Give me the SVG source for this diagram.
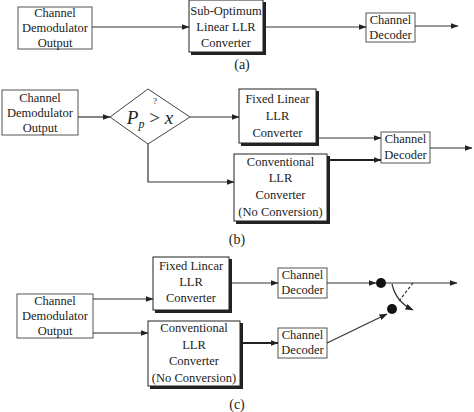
<svg xmlns="http://www.w3.org/2000/svg" width="474" height="412" viewBox="0 0 474 412">
<defs>
<style>
.box{fill:#fff;stroke:#555;stroke-width:1}
.sbox{fill:#fff;stroke:#222;stroke-width:1}
.sh{fill:#222}
.t{font-family:"Liberation Serif","Times New Roman","DejaVu Serif",serif;font-size:12.5px;fill:#222;text-anchor:middle}
.cap{font-family:"Liberation Serif","Times New Roman","DejaVu Serif",serif;font-size:14px;fill:#222;text-anchor:middle}
.ln{fill:none;stroke:#333;stroke-width:1.2}
.thk{fill:none;stroke:#222;stroke-width:2}
</style>
<marker id="ah" markerWidth="8" markerHeight="6" refX="7.5" refY="3" orient="auto" markerUnits="userSpaceOnUse">
<path d="M0,0 L8,3 L0,6 Z" fill="#222"/>
</marker>
</defs>

<!-- (a) -->
<g id="a-demod">
<rect class="box" x="18" y="7" width="74" height="42"/>
<text class="t" x="55" y="17">Channel</text>
<text class="t" x="55" y="32">Demodulator</text>
<text class="t" x="55" y="47">Output</text>
</g>
<g id="a-subopt">
<rect class="sh" x="191" y="2" width="75" height="53"/>
<rect class="sbox" x="189" y="0" width="74" height="52"/>
<text class="t" x="226" y="15">Sub-Optimum</text>
<text class="t" x="226" y="31">Linear LLR</text>
<text class="t" x="226" y="47">Converter</text>
</g>
<g id="a-decoder">
<rect class="box" x="366" y="13" width="49" height="29"/>
<text class="t" x="390.5" y="24">Channel</text>
<text class="t" x="390.5" y="39">Decoder</text>
</g>
<text class="cap" x="242" y="69">(a)</text>

<!-- (b) -->
<g id="b-demod">
<rect class="box" x="2" y="90" width="76" height="45"/>
<text class="t" x="40" y="102">Channel</text>
<text class="t" x="40" y="117">Demodulator</text>
<text class="t" x="40" y="132">Output</text>
</g>
<g id="b-decision">
<polygon fill="#fff" stroke="#444" stroke-width="1" points="110,117 148,89 190,117 148,144"/>
<text x="150" y="124" font-family="Liberation Serif, Times New Roman, serif" font-size="19" font-style="italic" fill="#222" text-anchor="middle">P<tspan font-size="12" dy="4">p</tspan><tspan font-style="normal" dy="-4"> &gt; </tspan>x</text>
<text x="155" y="104" font-family="Liberation Serif, Times New Roman, serif" font-size="9" fill="#222" text-anchor="middle">?</text>
</g>
<g id="b-fixed">
<rect class="sh" x="241" y="91" width="78" height="55"/>
<rect class="sbox" x="239" y="89" width="77" height="54"/>
<text class="t" x="277.5" y="103">Fixed Linear</text>
<text class="t" x="277.5" y="120">LLR</text>
<text class="t" x="277.5" y="137">Converter</text>
</g>
<g id="b-conv">
<rect class="sh" x="236" y="156" width="94" height="68"/>
<rect class="sbox" x="234" y="154" width="93" height="67"/>
<text class="t" x="280.5" y="166">Conventional</text>
<text class="t" x="280.5" y="182">LLR</text>
<text class="t" x="280.5" y="199">Converter</text>
<text class="t" x="280.5" y="216">(No Conversion)</text>
</g>
<g id="b-decoder">
<rect class="box" x="381" y="132" width="49" height="31"/>
<text class="t" x="405.5" y="143">Channel</text>
<text class="t" x="405.5" y="159">Decoder</text>
</g>
<text class="cap" x="237" y="244">(b)</text>

<!-- (c) -->
<g id="c-demod">
<rect class="box" x="17" y="294" width="76" height="44"/>
<text class="t" x="55" y="305">Channel</text>
<text class="t" x="55" y="320">Demodulator</text>
<text class="t" x="55" y="335">Output</text>
</g>
<g id="c-fixed">
<rect class="sh" x="155" y="259" width="77" height="54"/>
<rect class="sbox" x="153" y="257" width="76" height="53"/>
<text class="t" x="191" y="270">Fixed Lincar</text>
<text class="t" x="191" y="286">LLR</text>
<text class="t" x="191" y="302">Converter</text>
</g>
<g id="c-conv">
<rect class="sh" x="150" y="323" width="93" height="66"/>
<rect class="sbox" x="148" y="321" width="92" height="65"/>
<text class="t" x="194" y="332">Conventional</text>
<text class="t" x="194" y="349">LLR</text>
<text class="t" x="194" y="365">Converter</text>
<text class="t" x="194" y="382">(No Conversion)</text>
</g>
<g id="c-decoder1">
<rect class="box" x="278" y="268" width="49" height="30"/>
<text class="t" x="302.5" y="279">Channel</text>
<text class="t" x="302.5" y="294">Decoder</text>
</g>
<g id="c-decoder2">
<rect class="box" x="278" y="328" width="49" height="30"/>
<text class="t" x="302.5" y="339">Channel</text>
<text class="t" x="302.5" y="354">Decoder</text>
</g>
<g id="c-switch">
<circle cx="381" cy="283" r="5" fill="#111"/>
<circle cx="392" cy="309" r="5" fill="#111"/>
</g>
<text class="cap" x="237" y="409">(c)</text>

<!-- connectors -->
<g id="connectors">
<line class="ln" x1="92" y1="27" x2="189" y2="27" marker-end="url(#ah)"/>
<line class="ln" x1="266" y1="27" x2="366" y2="27" marker-end="url(#ah)"/>
<line class="ln" x1="415" y1="26" x2="458" y2="26" marker-end="url(#ah)"/>

<line class="ln" x1="78" y1="117" x2="110" y2="117" marker-end="url(#ah)"/>
<line class="ln" x1="190" y1="117" x2="239" y2="117" marker-end="url(#ah)"/>
<polyline class="ln" points="148,144 148,182 234,182" marker-end="url(#ah)"/>
<line class="ln" x1="318" y1="138" x2="381" y2="138" marker-end="url(#ah)"/>
<line class="thk" x1="329" y1="160" x2="381" y2="160" marker-end="url(#ah)"/>
<line class="ln" x1="430" y1="148" x2="472" y2="148" marker-end="url(#ah)"/>

<line class="ln" x1="93" y1="299" x2="153" y2="299" marker-end="url(#ah)"/>
<line class="ln" x1="93" y1="333" x2="148" y2="333" marker-end="url(#ah)"/>
<line class="ln" x1="231" y1="283" x2="278" y2="283" marker-end="url(#ah)"/>
<line class="thk" x1="242" y1="343" x2="278" y2="343" marker-end="url(#ah)"/>
<line class="ln" x1="327" y1="283" x2="376" y2="283" marker-end="url(#ah)"/>
<line class="ln" x1="386" y1="283" x2="457" y2="283" marker-end="url(#ah)"/>
<line class="ln" x1="327" y1="343" x2="387" y2="314" marker-end="url(#ah)"/>
<path class="ln" d="M392,284 Q396,302 413,310" marker-end="url(#ah)"/>
<line class="ln" x1="399" y1="301" x2="413" y2="283" stroke-dasharray="3,2"/>
</g>
</svg>
